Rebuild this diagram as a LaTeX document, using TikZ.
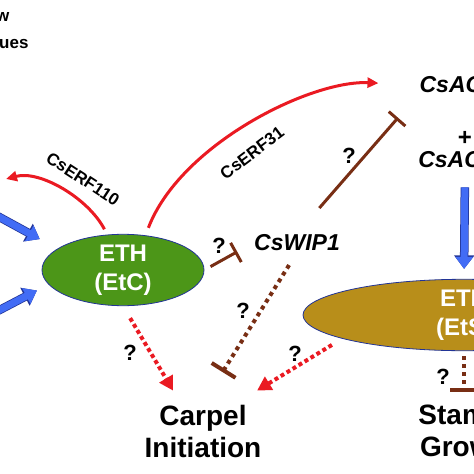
\documentclass[tikz,border=0pt]{standalone}
\usepackage{fontspec}
\setmainfont{Liberation Sans}
\usetikzlibrary{arrows.meta,shapes.geometric}

\definecolor{ethred}{RGB}{234,26,34}
\definecolor{ethbrown}{RGB}{120,46,20}
\definecolor{ethblue}{RGB}{66,108,245}
\definecolor{ethnavy}{RGB}{34,52,150}
\definecolor{etcgreen}{RGB}{76,150,24}
\definecolor{etsgold}{RGB}{184,142,26}

\tikzset{
	lab/.style={font=\fontsize{28}{32}\selectfont\bfseries, align=center, inner sep=1pt},
	gene/.style={font=\fontsize{23}{27}\selectfont\bfseries\itshape, inner sep=1pt},
	erflab/.style={font=\fontsize{17}{20}\selectfont\bfseries, inner sep=0pt},
	qmark/.style={font=\fontsize{22}{26}\selectfont\bfseries, inner sep=0pt},
	eth/.style={ellipse, draw=ethnavy, line width=0.8pt, text=white, align=center, inner sep=0pt,
		font=\fontsize{24}{29}\selectfont\bfseries},
	redarc/.style={ethred, line width=3pt, -{Triangle[length=11pt,width=10pt]}},
	inhib/.style={ethbrown, line width=3pt, -{Bar[width=22pt]}},
	dotarrow/.style={ethred, line width=4pt, dash pattern=on 4pt off 3pt, -{Triangle[length=14pt,width=15pt]}},
	dotinhib/.style={ethbrown, line width=4pt, dash pattern=on 4pt off 4pt, -{Bar[width=28pt]}},
	bluearrow/.style={ethblue, line width=7pt, -{Triangle[length=12pt,width=17pt]},
		preaction={draw=ethnavy, line width=8.5pt, -{Triangle[length=13.5pt,width=19.5pt]}}}
}

\begin{document}
\begin{tikzpicture}[x=1pt,y=-1pt]
\useasboundingbox (0,0) rectangle (474,474);
\clip (0,0) rectangle (474,474);

%corner text
\node[erflab, anchor=west] (tlw) at (-4,17) {w};
\node[erflab, anchor=west] (tlues) at (-1,44) {ues};

%ethylene ellipses
\node[eth, fill=etcgreen, minimum width=162pt, minimum height=68pt] (etc) at (123,270) {ETH\\(EtC)};
\node[eth, fill=etsgold, minimum width=322pt, minimum height=70pt] (ets) at (464,315) {ETH\\(EtS)};

%genes
\node[gene] (wip) at (297,243) {CsWIP1};
\node[gene] (acs) at (465,85) {CsACS2};
\node[lab, font=\fontsize{24}{28}\selectfont\bfseries] (plus) at (465,138) {+};
\node[gene] (aco) at (465,160) {CsACO2};

%organs
\node[lab] (carpel) at (203,431) {Carpel\\Initiation};
\node[lab] (stamen) at (469,431) {Stamen\\Growth};

%question marks
\foreach \n/\x/\y in {q1/219/246,q2/349/156,q3/243/311,q4/130/353,q5/295/354,q6/443/377}{
	\node[qmark] (\n) at (\x,\y) {?};
}

%free ends
\coordinate (erfL) at (6,179);
\coordinate (inU) at (-8,213);
\coordinate (inD) at (-8,314);

%red curves
\draw[redarc, shorten <=6pt] (etc.114) .. controls (88,198) and (40,170) .. (erfL);
\draw[redarc, shorten <=8pt, shorten >=40pt] (etc.57) .. controls (180,145) and (310,80) .. (acs.west);
\node[erflab, rotate=-33] (erf110) at (83,179) {CsERF110};
\node[erflab, rotate=37] (erf31) at (252,153) {CsERF31};

%blue arrows
\draw[bluearrow, shorten >=20pt] (inU) -- (etc.162);
\draw[bluearrow, shorten >=13pt] (inD) -- (etc.191);
\draw[bluearrow, shorten <=18pt, shorten >=10pt] (aco.south) -- (ets.north);

%inhibitions
\draw[inhib, shorten <=7pt, shorten >=18pt] (etc.east) -- (wip.west);
\draw[inhib, shorten <=34pt, shorten >=31pt] (wip.north) -- (acs.south west);
\draw[dotinhib, shorten <=15pt, shorten >=37pt] (wip.south) -- (carpel.north);
\draw[dotinhib, shorten <=5pt, shorten >=12pt] (ets.south) -- (ets.south |- stamen.north);

%dotted arrows
\draw[dotarrow, shorten <=14pt, shorten >=15pt] (etc.south) -- (carpel.129);
\draw[dotarrow, shorten <=12pt, shorten >=25pt] (ets.191) -- (carpel.40);
\end{tikzpicture}
\end{document}
